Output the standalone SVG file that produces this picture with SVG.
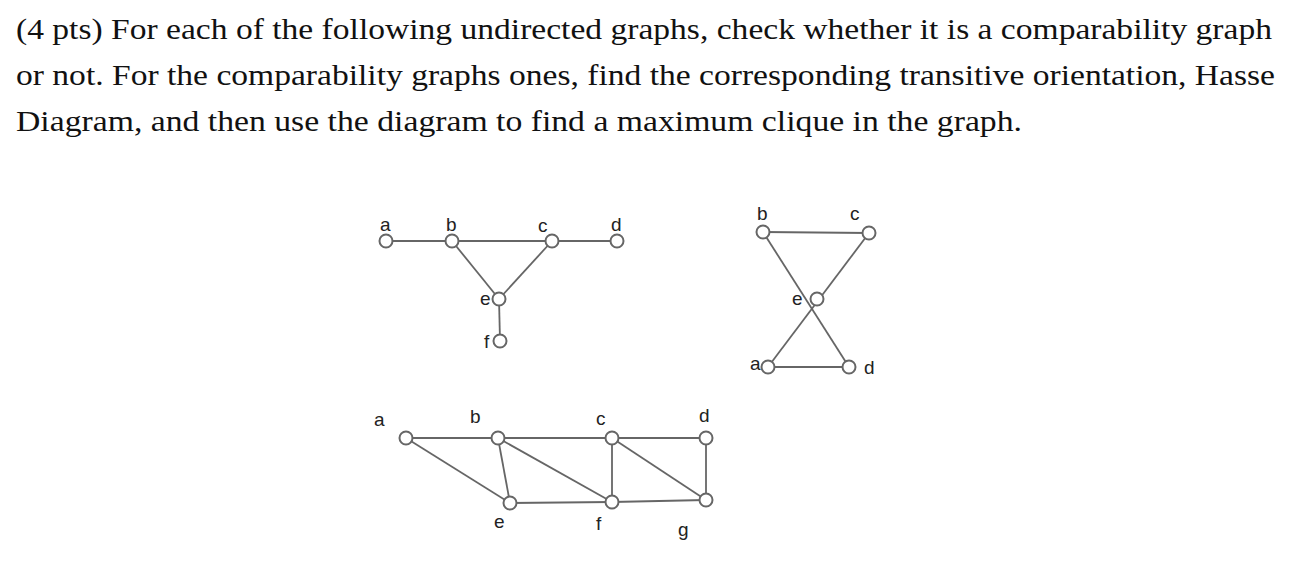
<svg xmlns="http://www.w3.org/2000/svg" width="1294" height="577" viewBox="0 0 1294 577">
<style>
.t{font-family:"Liberation Serif",serif;font-size:30px;fill:#111}
.l{font-family:"Liberation Sans",sans-serif;font-size:19px;fill:#222}
.n circle{fill:#fff;stroke:#666;stroke-width:2}
.e line{stroke:#666;stroke-width:1.8}
</style>
<rect width="1294" height="577" fill="#fff"/>
<text class="t" x="16" y="39" textLength="1256" lengthAdjust="spacingAndGlyphs">(4 pts) For each of the following undirected graphs, check whether it is a comparability graph</text>
<text class="t" x="16" y="85" textLength="1259" lengthAdjust="spacingAndGlyphs">or not. For the comparability graphs ones, find the corresponding transitive orientation, Hasse</text>
<text class="t" x="16" y="131" textLength="1006" lengthAdjust="spacingAndGlyphs">Diagram, and then use the diagram to find a maximum clique in the graph.</text>
<g class="e" id="connectors">
<line x1="386" y1="241" x2="452" y2="241"/><line x1="452" y1="241" x2="552" y2="241"/><line x1="552" y1="241" x2="617" y2="241"/>
<line x1="452" y1="241" x2="499" y2="299"/><line x1="552" y1="241" x2="499" y2="299"/><line x1="499" y1="299" x2="500" y2="341"/>
<line x1="763" y1="232" x2="869" y2="233"/><line x1="763" y1="232" x2="849" y2="367"/><line x1="869" y1="233" x2="768" y2="367"/><line x1="768" y1="367" x2="849" y2="367"/>
<line x1="406" y1="438" x2="498" y2="438"/><line x1="498" y1="438" x2="612" y2="438"/><line x1="612" y1="438" x2="706" y2="438"/>
<line x1="406" y1="438" x2="510" y2="503"/><line x1="498" y1="438" x2="510" y2="503"/><line x1="498" y1="438" x2="612" y2="502"/>
<line x1="510" y1="503" x2="612" y2="502"/><line x1="612" y1="438" x2="612" y2="502"/><line x1="612" y1="438" x2="706" y2="500"/>
<line x1="612" y1="502" x2="706" y2="500"/><line x1="706" y1="438" x2="706" y2="500"/>
</g>
<g class="n">
<g id="g1a"><circle cx="386" cy="241" r="6.5"/><text class="l" x="380" y="231">a</text></g>
<g id="g1b"><circle cx="452" cy="241" r="6.5"/><text class="l" x="446" y="231">b</text></g>
<g id="g1c"><circle cx="552" cy="241" r="6.5"/><text class="l" x="538" y="232">c</text></g>
<g id="g1d"><circle cx="617" cy="241" r="6.5"/><text class="l" x="611" y="231">d</text></g>
<g id="g1e"><circle cx="499" cy="299" r="6.5"/><text class="l" x="480" y="305">e</text></g>
<g id="g1f"><circle cx="500" cy="341" r="6.5"/><text class="l" x="484" y="348">f</text></g>
<g id="g2b"><circle cx="763" cy="232" r="6.5"/><text class="l" x="757" y="220">b</text></g>
<g id="g2c"><circle cx="869" cy="233" r="6.5"/><text class="l" x="850" y="220">c</text></g>
<g id="g2e"><circle cx="817" cy="299" r="6.5"/><text class="l" x="792" y="305">e</text></g>
<g id="g2a"><circle cx="768" cy="367" r="6.5"/><text class="l" x="750" y="370">a</text></g>
<g id="g2d"><circle cx="849" cy="367" r="6.5"/><text class="l" x="864" y="374">d</text></g>
<g id="g3a"><circle cx="406" cy="438" r="6.5"/><text class="l" x="374" y="426">a</text></g>
<g id="g3b"><circle cx="498" cy="438" r="6.5"/><text class="l" x="470" y="423">b</text></g>
<g id="g3c"><circle cx="612" cy="438" r="6.5"/><text class="l" x="596" y="425">c</text></g>
<g id="g3d"><circle cx="706" cy="438" r="6.5"/><text class="l" x="699" y="422">d</text></g>
<g id="g3e"><circle cx="510" cy="503" r="6.5"/><text class="l" x="494" y="528">e</text></g>
<g id="g3f"><circle cx="612" cy="502" r="6.5"/><text class="l" x="596" y="530">f</text></g>
<g id="g3g"><circle cx="706" cy="500" r="6.5"/><text class="l" x="678" y="536">g</text></g>
</g>
</svg>
